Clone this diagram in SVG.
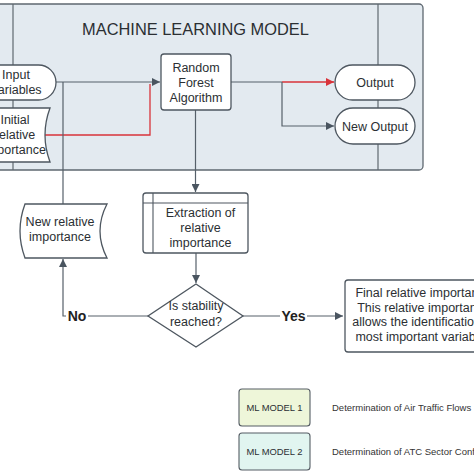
<svg xmlns="http://www.w3.org/2000/svg" width="474" height="474" viewBox="0 0 474 474">
<style>
text{font-family:"Liberation Sans",Arial,sans-serif;fill:#2b2f33}
.n{font-size:12.5px;text-anchor:middle}
.shape{fill:#ffffff;stroke:#4e5760;stroke-width:1.3}
.ln{fill:none;stroke:#56606a;stroke-width:1.2}
.red{fill:none;stroke:#d9333a;stroke-width:1.3}
.lbl{font-size:14px;font-weight:bold;text-anchor:middle;fill:#222}
.leg{font-size:9.5px;fill:#333}
</style>
<defs>
<marker id="ah" viewBox="0 0 10 10" refX="10" refY="5" markerWidth="8" markerHeight="8" markerUnits="userSpaceOnUse" orient="auto"><path d="M0,0 L10,5 L0,10 Z" fill="#4a5560"/></marker>
<marker id="ahr" viewBox="0 0 10 10" refX="10" refY="5" markerWidth="8" markerHeight="8" markerUnits="userSpaceOnUse" orient="auto"><path d="M0,0 L10,5 L0,10 Z" fill="#d9333a"/></marker>
</defs>
<rect width="474" height="474" fill="#ffffff"/>
<g id="container">
<rect x="-40" y="4" width="463" height="166" rx="4" fill="#e3eaf0" stroke="#5f6870" stroke-width="1.3"/>
<line x1="13" y1="4" x2="13" y2="170" stroke="#5f6870" stroke-width="1.2"/>
<line x1="378" y1="4" x2="378" y2="170" stroke="#5f6870" stroke-width="1.2"/>
<text x="195.5" y="34.5" style="font-size:16.4px;text-anchor:middle">MACHINE LEARNING MODEL</text>
</g>
<g id="connectors">
<line class="ln" x1="56" y1="82" x2="160" y2="82" marker-end="url(#ah)"/>
<path class="red" d="M45,135 H150 V84"/>
<line class="ln" x1="63" y1="82" x2="63" y2="204"/>
<line class="ln" x1="231" y1="82" x2="282" y2="82"/>
<line class="red" x1="282" y1="82" x2="334" y2="82" marker-end="url(#ahr)"/>
<path class="ln" d="M282,82 V126 H334" marker-end="url(#ah)"/>
<line class="ln" x1="195.5" y1="110" x2="195.5" y2="192" marker-end="url(#ah)"/>
<line class="ln" x1="196" y1="253" x2="196" y2="283" marker-end="url(#ah)"/>
<line class="ln" x1="148" y1="316" x2="88" y2="316"/>
<path class="ln" d="M66,316 H63 V259" marker-end="url(#ah)"/>
<line class="ln" x1="243" y1="316" x2="280" y2="316"/>
<line class="ln" x1="307" y1="316" x2="343" y2="316" marker-end="url(#ah)"/>
<text class="lbl" x="77" y="321">No</text>
<text class="lbl" x="293.5" y="321">Yes</text>
</g>
<g id="input-variables">
<rect class="shape" x="-30" y="65" width="86" height="35" rx="17.5"/>
<text class="n" x="16" y="79">Input</text>
<text class="n" x="16" y="94">Variables</text>
</g>
<g id="initial-relative-importance">
<path class="shape" d="M50,108 L-10,108 Q-25,135 -10,162 L50,162 Q40,135 50,108 Z"/>
<text class="n" x="15" y="124">Initial</text>
<text class="n" x="15" y="139">relative</text>
<text class="n" x="15" y="154">importance</text>
</g>
<g id="random-forest">
<rect class="shape" x="161" y="54" width="70" height="56" rx="3"/>
<text class="n" x="196" y="72">Random</text>
<text class="n" x="196" y="87">Forest</text>
<text class="n" x="196" y="102">Algorithm</text>
</g>
<g id="output">
<rect class="shape" x="335" y="65" width="80" height="35" rx="17.5"/>
<text class="n" x="375" y="86.5">Output</text>
</g>
<g id="new-output">
<rect class="shape" x="335" y="108" width="80" height="36" rx="18"/>
<text class="n" x="375" y="130.5">New Output</text>
</g>
<g id="extraction">
<rect class="shape" x="143" y="193" width="105" height="60" rx="3"/>
<line x1="143" y1="203" x2="248" y2="203" stroke="#4e5760" stroke-width="1.1"/>
<line x1="153" y1="193" x2="153" y2="253" stroke="#4e5760" stroke-width="1.1"/>
<text class="n" x="200.5" y="217">Extraction of</text>
<text class="n" x="200.5" y="232">relative</text>
<text class="n" x="200.5" y="247">importance</text>
</g>
<g id="new-relative-importance">
<path class="shape" d="M25,204 L107,204 Q93,231 107,258 L25,258 Q15,231 25,204 Z"/>
<text class="n" x="60" y="226">New relative</text>
<text class="n" x="60" y="241">importance</text>
</g>
<g id="stability">
<polygon class="shape" points="196,284 243,316 196,347 148,316"/>
<text class="n" x="196" y="310">Is stability</text>
<text class="n" x="196" y="326">reached?</text>
</g>
<g id="final">
<rect class="shape" x="345" y="280" width="156" height="72" rx="3"/>
<text class="n" x="423.5" y="297">Final relative importance</text>
<text class="n" x="423.5" y="311.5">This relative importance</text>
<text class="n" x="423.5" y="326">allows the identification of</text>
<text class="n" x="423.5" y="340.5">most important variables</text>
</g>
<g id="legend-1">
<rect x="239" y="389" width="71" height="37" rx="3" fill="#eef6d9" stroke="#555d64" stroke-width="1.1"/>
<text x="274.5" y="410.5" style="font-size:9.4px;text-anchor:middle">ML MODEL 1</text>
<text class="leg" x="332" y="410.5">Determination of Air Traffic Flows</text>
</g>
<g id="legend-2">
<rect x="239" y="433" width="71" height="37" rx="3" fill="#e1f5f0" stroke="#555d64" stroke-width="1.1"/>
<text x="274.5" y="454.5" style="font-size:9.4px;text-anchor:middle">ML MODEL 2</text>
<text class="leg" x="332" y="454.5">Determination of ATC Sector Configurations</text>
</g>
</svg>
